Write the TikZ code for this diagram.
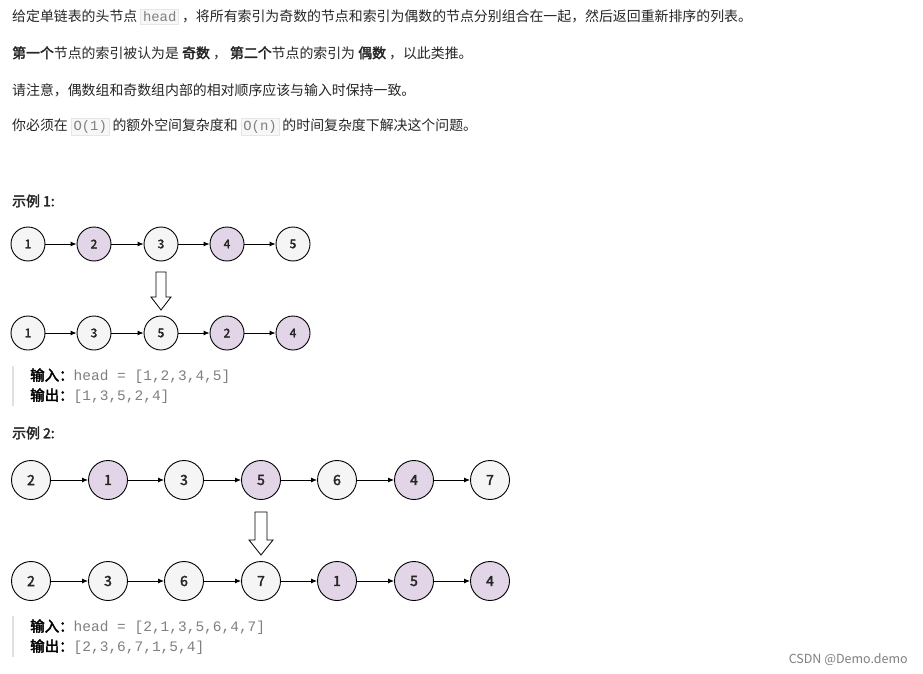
\documentclass[tikz,border=0pt]{standalone}
\usepackage{fontspec}
\setmainfont{Noto Sans CJK SC}[AutoFakeBold=2.5]
\setmonofont{Liberation Mono}
\usetikzlibrary{arrows.meta}
\definecolor{nodegray}{HTML}{F5F5F5}
\definecolor{nodepurple}{HTML}{E1D5E7}
\definecolor{txt}{HTML}{262626}
\definecolor{codebg}{HTML}{F7F7F8}
\definecolor{codeborder}{HTML}{E6E6E6}
\definecolor{codegray}{HTML}{808080}
\definecolor{barcol}{HTML}{E0E0E0}
\newcommand{\inlinecode}[1]{{\setlength\fboxsep{2pt}\setlength\fboxrule{0.6pt}\fcolorbox{codeborder}{codebg}{\ttfamily\color{codegray}#1}}}
\begin{document}
\begin{tikzpicture}[x=1pt,y=-1pt,
  line/.style={anchor=west,font=\fontsize{13.9}{16}\selectfont,text=txt,inner sep=0},
  sn/.style={circle,draw=black,line width=0.9pt,minimum size=34pt,inner sep=0,font=\bfseries\fontsize{12}{13}\selectfont,text=txt},
  bn/.style={circle,draw=black,line width=0.9pt,minimum size=39pt,inner sep=0,font=\bfseries\fontsize{14}{15}\selectfont,text=txt},
  g/.style={fill=nodegray},p/.style={fill=nodepurple},
  link/.style={-{Latex[length=6pt,width=5pt]},line width=0.9pt},
  io/.style={anchor=west,inner sep=0,font=\fontsize{14.5}{16}\selectfont}]
\useasboundingbox[fill=white] (0,0) rectangle (923,674);
\node[line] (t1) at (12,17) {给定单链表的头节点 \inlinecode{head} ，将所有索引为奇数的节点和索引为偶数的节点分别组合在一起，然后返回重新排序的列表。};
\node[line] (t2) at (12,53) {\textbf{第一个}节点的索引被认为是 \textbf{奇数} ， \textbf{第二个}节点的索引为 \textbf{偶数} ，以此类推。};
\node[line] (t3) at (12,90) {请注意，偶数组和奇数组内部的相对顺序应该与输入时保持一致。};
\node[line] (t4) at (12,127) {你必须在 \inlinecode{O(1)} 的额外空间复杂度和 \inlinecode{O(n)} 的时间复杂度下解决这个问题。};
\node[line] (e1) at (12,201) {\textbf{示例 1:}};
% example 1
\foreach \n/\x/\s/\c in {a1/28/1/g,a2/94/2/p,a3/161/3/g,a4/227/4/p,a5/293/5/g}
  \node[sn,\c] (\n) at (\x,244) {\s};
\foreach \n/\x/\s/\c in {b1/28/1/g,b2/94/3/g,b3/161/5/g,b4/227/2/p,b5/293/4/p}
  \node[sn,\c] (\n) at (\x,333) {\s};
\foreach \i/\j in {1/2,2/3,3/4,4/5}{\draw[link] (a\i) -- (a\j); \draw[link] (b\i) -- (b\j);}
\draw[line width=0.8pt,fill=white] (156,272) -- (166,272) -- (166,297) -- (171,297) -- (161,310) -- (151,297) -- (156,297) -- cycle;
\draw[barcol,line width=2pt] (13,366) -- (13,406);
\node[io] (i1) at (30,376) {\textbf{输入：}\ttfamily\color{codegray}head = [1,2,3,4,5]};
\node[io] (o1) at (30,396) {\textbf{输出：}\ttfamily\color{codegray}[1,3,5,2,4]};
\node[line] (e2) at (12,433) {\textbf{示例 2:}};
% example 2
\foreach \n/\x/\s/\c in {c1/31/2/g,c2/108/1/p,c3/184/3/g,c4/261/5/p,c5/337/6/g,c6/414/4/p,c7/490/7/g}
  \node[bn,\c] (\n) at (\x,480) {\s};
\foreach \n/\x/\s/\c in {d1/31/2/g,d2/108/3/g,d3/184/6/g,d4/261/7/g,d5/337/1/p,d6/414/5/p,d7/490/4/p}
  \node[bn,\c] (\n) at (\x,581) {\s};
\foreach \i/\j in {1/2,2/3,3/4,4/5,5/6,6/7}{\draw[link] (c\i) -- (c\j); \draw[link] (d\i) -- (d\j);}
\draw[line width=0.8pt,fill=white] (255,512) -- (267,512) -- (267,540) -- (273,540) -- (261,555) -- (249,540) -- (255,540) -- cycle;
\draw[barcol,line width=2pt] (13,616) -- (13,657);
\node[io] (i2) at (30,627) {\textbf{输入：}\ttfamily\color{codegray}head = [2,1,3,5,6,4,7]};
\node[io] (o2) at (30,647) {\textbf{输出：}\ttfamily\color{codegray}[2,3,6,7,1,5,4]};
\node[anchor=east,inner sep=0,font=\fontsize{12.5}{14}\selectfont,text=gray] (wm) at (908,660) {CSDN @Demo.demo};
\end{tikzpicture}
\end{document}
